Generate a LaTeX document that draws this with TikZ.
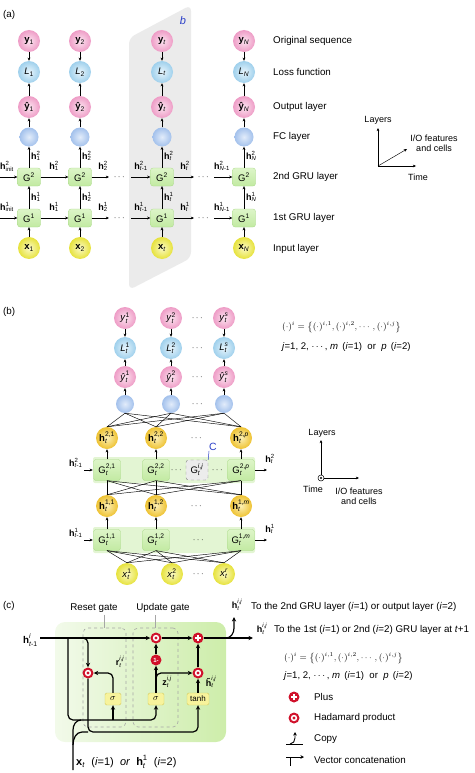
\documentclass[tikz,border=0pt]{standalone}
\usepackage{fontspec}
\setmainfont{Liberation Sans}
\usepackage{amsmath}
\usetikzlibrary{arrows.meta,calc}
\definecolor{pinkO}{HTML}{EE9CC6}
\definecolor{pinkI}{HTML}{FCE4F0}
\definecolor{blueO}{HTML}{9FD0EC}
\definecolor{blueI}{HTML}{E8F5FC}
\definecolor{fcO}{HTML}{A3C1EC}
\definecolor{fcI}{HTML}{E2ECFA}
\definecolor{yelO}{HTML}{E6E23C}
\definecolor{yelI}{HTML}{FBFAC4}
\definecolor{oraO}{HTML}{EEC232}
\definecolor{oraI}{HTML}{FCEFB4}
\definecolor{gT}{HTML}{DDF5C8}
\definecolor{gB}{HTML}{C2EAA2}
\definecolor{gD}{HTML}{A8D888}
\definecolor{bandc}{HTML}{E3F5D3}
\definecolor{panelc}{HTML}{EBEBEB}
\definecolor{hred}{HTML}{D0112B}
\definecolor{sigF}{HTML}{F7F39C}
\definecolor{sigD}{HTML}{D6CC5E}
\definecolor{cBlue}{HTML}{2B3FC8}
\definecolor{boxL}{HTML}{F2FAEA}
\definecolor{boxR}{HTML}{CDEDAA}
\newcommand\hs[3]{$\text{#1}^{\text{#2}}_{\text{#3}}$}
\newcommand\hb[2]{$\text{#1}_{\text{#2}}$}
\tikzset{
 arr/.style={-{Stealth[length=3.2pt,width=2.8pt]}, line width=0.45pt},
 tarr/.style={-{Stealth[length=4.5pt,width=4.2pt]}, line width=1.2pt},
 tl/.style={line width=1.2pt},
 cir/.style={circle, minimum size=22pt, inner sep=0pt, font=\fontsize{9.5}{10}\selectfont},
 pinkc/.style={cir, inner color=pinkI, outer color=pinkO},
 bluec/.style={cir, inner color=blueI, outer color=blueO},
 fcc/.style={cir, minimum size=19pt, inner color=fcI, outer color=fcO},
 yelc/.style={cir, inner color=yelI, outer color=yelO},
 orac/.style={cir, inner color=oraI, outer color=oraO},
 gbox/.style={rectangle, rounded corners=2.5pt, minimum width=23pt, minimum height=18pt, inner sep=0pt, top color=gT, bottom color=gB, draw=gD, line width=0.3pt, font=\fontsize{9.5}{10}\selectfont},
 lab/.style={inner sep=0pt, font=\fontsize{9.8}{11}\selectfont},
 hl/.style={inner sep=0pt, font=\fontsize{9}{10}\selectfont},
 dotn/.style={inner sep=0pt, font=\fontsize{9}{10}\selectfont},
 had/.style={circle, fill=hred, minimum size=11pt, inner sep=0pt, path picture={\fill[white] (path picture bounding box.center) circle (3.2pt); \fill[hred] (path picture bounding box.center) circle (1.6pt);}},
 plusn/.style={circle, fill=hred, minimum size=11pt, inner sep=0pt, path picture={\draw[white, line width=1.3pt] ([xshift=-3pt]path picture bounding box.center) -- ([xshift=3pt]path picture bounding box.center); \draw[white, line width=1.3pt] ([yshift=-3pt]path picture bounding box.center) -- ([yshift=3pt]path picture bounding box.center);}},
 sigbox/.style={rectangle, rounded corners=1.5pt, fill=sigF, draw=sigD, line width=0.4pt, minimum width=16pt, minimum height=12pt, inner sep=1pt, font=\fontsize{9}{10}\selectfont},
 gate/.style={draw=gray!70, dashed, rounded corners=5pt, line width=0.6pt},
}
\begin{document}
\begin{tikzpicture}[x=1pt,y=-1pt]
\useasboundingbox (0,0) rectangle (474,773);
% ================= (a) =================
\fill[panelc, rounded corners=6pt] (129,38) -- (191,5) -- (191,258) -- (129,290) -- cycle;
\node[lab, anchor=west] (la) at (3,15) {(a)};
\node[text=cBlue, font=\fontsize{11}{12}\selectfont\itshape, inner sep=0pt] (bl) at (183,21) {b};
\foreach \c/\x/\s in {1/29/1,2/80/2,3/162/\textit{t},4/244/\textit{N}}{
  \node[pinkc] (ay\c) at (\x,41) {\hb{\textbf{y}}{\s}};
  \node[bluec] (aL\c) at (\x,72) {\hb{\textit{L}}{\s}};
  \node[pinkc] (ayh\c) at (\x,107) {\hb{\textbf{ŷ}}{\s}};
  \node[fcc] (af\c) at (\x,137) {};
  \node[gbox] (aGb\c) at (\x,177) {G$^{\text{2}}$};
  \node[gbox] (aGa\c) at (\x,218) {G$^{\text{1}}$};
  \node[yelc] (ax\c) at (\x,248) {\hb{\textbf{x}}{\s}};
  \draw[arr] (ay\c) -- (aL\c);
  \draw[arr] (ayh\c) -- (aL\c);
  \draw[arr] (af\c) -- (ayh\c);
  \draw[arr] (aGb\c) -- (af\c);
  \draw[arr] (aGa\c) -- (aGb\c);
  \draw[arr] (ax\c) -- (aGa\c);
  \node[hl, anchor=west] (au2\c) at (\x+2,156) {\hs{\textbf{h}}{2}{\s}};
  \node[hl, anchor=west] (au1\c) at (\x+2,197) {\hs{\textbf{h}}{1}{\s}};
}
\foreach \r/\yy/\ly/\n in {b/177/166/2, a/218/207/1}{
  \coordinate (ain\r) at (0,\yy);
  \draw[arr] (ain\r) -- (aG\r1);
  \node[hl, anchor=west] (alin\r) at (0,\ly) {\hs{\textbf{h}}{\n}{init}};
  \draw[arr] (aG\r1) -- (aG\r2);
  \node[hl] (al1\r) at (54,\ly) {\hs{\textbf{h}}{\n}{1}};
  \coordinate (ao2\r) at (109,\yy);
  \draw[arr] (aG\r2) -- (ao2\r);
  \node[hl] (al2\r) at (103,\ly) {\hs{\textbf{h}}{\n}{2}};
  \node[dotn] (ad1\r) at (120,\yy) {$\cdots$};
  \coordinate (ai3\r) at (131,\yy);
  \draw[arr] (ai3\r) -- (aG\r3);
  \node[hl] (al3\r) at (141,\ly) {\hs{\textbf{h}}{\n}{\textit{t}-1}};
  \coordinate (ao3\r) at (194,\yy);
  \draw[arr] (aG\r3) -- (ao3\r);
  \node[hl] (al4\r) at (185,\ly) {\hs{\textbf{h}}{\n}{\textit{t}}};
  \node[dotn] (ad2\r) at (204,\yy) {$\cdots$};
  \coordinate (ai4\r) at (214,\yy);
  \draw[arr] (ai4\r) -- (aG\r4);
  \node[hl] (al5\r) at (222,\ly) {\hs{\textbf{h}}{\n}{\textit{N}-1}};
}
\foreach \t/\yy in {Original sequence/41, Loss function/72, Output layer/107, FC layer/137, 2nd GRU layer/177, 1st GRU layer/218, Input layer/249}{
  \node[lab, anchor=west] at (273,\yy) {\t};
}
\coordinate (ao) at (378,166);
\coordinate (aup) at (378,128);
\coordinate (art) at (416,166);
\coordinate (adg) at (407,149);
\draw[arr] (ao) -- (aup);
\draw[arr] (ao) -- (art);
\draw[arr] (ao) -- (adg);
\node[hl] (alay) at (378,120) {Layers};
\node[hl] (atime) at (418,177) {Time};
\node[hl, align=center] (aio) at (434,143) {I/O features\\and cells};
% ================= (b) =================
\node[lab, anchor=west] (lb) at (3,312) {(b)};
\foreach \c/\x/\s in {1/125/1,2/171/2,3/224/\textit{s}}{
  \node[pinkc] (by\c) at (\x,318) {\hs{\textit{y}}{\s}{\textit{t}}};
  \node[bluec] (bL\c) at (\x,348) {\hs{\textit{L}}{\s}{\textit{t}}};
  \node[pinkc] (byh\c) at (\x,377) {\hs{\textit{ŷ}}{\s}{\textit{t}}};
  \node[fcc, minimum size=18pt] (bf\c) at (\x,404) {};
  \draw[arr] (by\c) -- (bL\c);
  \draw[arr] (byh\c) -- (bL\c);
  \draw[arr] (bf\c) -- (byh\c);
}
\foreach \yy in {318,348,377,404}{\node[dotn] at (198,\yy) {$\cdots$};}
\node[fill=bandc, rounded corners=2pt, minimum width=162pt, minimum height=26pt, inner sep=0pt] (bandb) at (174,470) {};
\node[fill=bandc, rounded corners=2pt, minimum width=162pt, minimum height=26pt, inner sep=0pt] (banda) at (174,540) {};
\foreach \c/\x/\s in {1/107/1,2/156/2,3/241/\textit{p}}{
  \node[gbox, minimum width=27pt, minimum height=21pt] (bGb\c) at (\x,470) {\hs{G}{2,\s}{\textit{t}}};
  \node[orac] (bhb\c) at (\x,438) {\hs{\textbf{h}}{2,\s}{\textit{t}}};
  \draw[arr] (bGb\c) -- (bhb\c);
}
\foreach \c/\x/\s in {1/107/1,2/156/2,3/241/\textit{m}}{
  \node[gbox, minimum width=27pt, minimum height=21pt] (bGa\c) at (\x,540) {\hs{G}{1,\s}{\textit{t}}};
  \node[orac] (bha\c) at (\x,506) {\hs{\textbf{h}}{1,\s}{\textit{t}}};
  \draw[arr] (bGa\c) -- (bha\c);
}
\foreach \c/\x/\s in {1/127/1,2/172/2,3/224/\textit{r}}{
  \node[yelc] (bx\c) at (\x,574) {\hs{\textit{x}}{\s}{\textit{t}}};
}
\foreach \a in {1,2,3}{\foreach \b in {1,2,3}{
  \draw[line width=0.45pt] (bf\a.south) -- (bhb\b.north);
  \draw[line width=0.45pt] (bha\a.north) -- (bGb\b.south);
  \draw[line width=0.45pt] (bx\a.north) -- (bGa\b.south);
}}
\node[draw=gray, dashed, fill=gray!15, rounded corners=2.5pt, minimum width=22pt, minimum height=20pt, inner sep=0pt, font=\fontsize{9.5}{10}\selectfont] (bGij) at (197,470) {\hs{G}{\textit{i},\textit{j}}{\textit{t}}};
\node[dotn] at (177,470) {$\cdots$};
\node[dotn] at (218,470) {$\cdots$};
\node[dotn] at (197,438) {$\cdots$};
\node[dotn] at (197,506) {$\cdots$};
\node[dotn] at (199,540) {$\cdots$};
\node[dotn] at (199,574) {$\cdots$};
\node[text=cBlue, font=\fontsize{10.5}{12}\selectfont, inner sep=0pt] (bC) at (213,447) {C};
\draw[cBlue, line width=0.5pt] (bC.south west) -- (bGij.north east);
\node[hl, anchor=west] (bl2in) at (69,463) {\hs{\textbf{h}}{2}{\textit{t}-1}};
\coordinate (b2in) at (84,470);
\draw[arr] (b2in) -- (bandb.west);
\coordinate (b2out) at (267,470);
\draw[arr] (bandb.east) -- (b2out);
\node[hl] (bl2out) at (270,459) {\hs{\textbf{h}}{2}{\textit{t}}};
\node[hl, anchor=west] (bl1in) at (69,533) {\hs{\textbf{h}}{1}{\textit{t}-1}};
\coordinate (b1in) at (84,540);
\draw[arr] (b1in) -- (banda.west);
\coordinate (b1out) at (267,540);
\draw[arr] (banda.east) -- (b1out);
\node[hl] (bl1out) at (270,529) {\hs{\textbf{h}}{1}{\textit{t}}};
\node[anchor=west, inner sep=0pt, font=\fontsize{9}{10}\selectfont] (bfm1) at (282,327) {$(\cdot)^{i}=\bigl\{(\cdot)^{i,1},(\cdot)^{i,2},\cdots,(\cdot)^{i,j}\bigr\}$};
\node[anchor=west, inner sep=0pt, font=\fontsize{9.6}{11}\selectfont] (bfm2) at (282,347) {\textit{j}=1, 2, $\cdots$, \textit{m}\, (\textit{i}=1)\ \ or\ \ \textit{p}\, (\textit{i}=2)};
\node[circle, draw, line width=0.5pt, minimum size=6pt, inner sep=0pt] (bo) at (321,478) {};
\fill (bo.center) circle (1.1pt);
\coordinate (bup) at (321,440);
\coordinate (brt) at (359,478);
\draw[arr] (bo) -- (bup);
\draw[arr] (bo) -- (brt);
\node[hl] (blay) at (322,433) {Layers};
\node[hl] (btime) at (313,489) {Time};
\node[hl, align=center] (bio) at (359,496) {I/O features\\and cells};
% ================= (c) =================
\node[lab, anchor=west] (lc) at (3,606) {(c)};
\node[rounded corners=10pt, minimum width=171pt, minimum height=120pt, inner sep=0pt, left color=boxL, right color=boxR] (cbox) at (140.5,682) {};
\node[gate, minimum width=43pt, minimum height=99pt] (rg) at (104.5,677.5) {};
\node[gate, minimum width=45pt, minimum height=99pt] (ug) at (155.5,677.5) {};
\node[lab] (rgl) at (94,608) {Reset gate};
\node[lab] (ugl) at (163,608) {Update gate};
\draw[gray!70, line width=0.6pt] (rg.north |- rgl.south) ++(0,2) -- (rg.north);
\draw[gray!70, line width=0.6pt] (ug.north |- ugl.south) ++(0,2) -- (ug.north);
\node[had] (cha) at (156,638) {};
\node[plusn] (cpl) at (198,638) {};
\node[circle, fill=hred, minimum size=11pt, inner sep=0pt, text=white, font=\fontsize{6}{6}\selectfont\bfseries] (cone) at (156,660) {1-};
\node[had] (chr) at (88,673) {};
\node[had] (chc) at (198,673) {};
\node[sigbox] (csr) at (113,699) {$\sigma$};
\node[sigbox] (csu) at (156,699) {$\sigma$};
\node[sigbox, minimum width=22pt, font=\fontsize{8}{9}\selectfont] (ctanh) at (198,699) {tanh};
\node[lab, anchor=east] (chin) at (38,640) {\hs{\textbf{h}}{\textit{i}}{\textit{t}-1}};
\coordinate (cs) at (40,638);
\coordinate (cend) at (253,638);
\draw[tarr] (cs) -- (cha);
\draw[tarr] (cha) -- (cpl);
\draw[tarr] (cpl) -- (cend);
\draw[tarr, rounded corners=5pt] (68,638) -- (68,720) -| (csu.south);
\draw[tarr] (113,720) -- (csr.south);
\coordinate (cx) at (73,770);
\draw[tl] (cx) -- (73,730) to[out=90,in=180] (81,720);
\draw[tl] (73,745) to[out=90,in=180] (82,732) -- (88,732);
\draw[tarr, rounded corners=5pt] (chr.south) -- (88,732) -| (ctanh.south);
\draw[tarr, rounded corners=5pt] (78,638) -| (chr.north);
\draw[tarr, rounded corners=5pt] (csr.north) |- (chr.east);
\draw[tarr] (csu.north) -- (cone.south);
\draw[tarr, rounded corners=5pt] (156,686) |- (chc.west);
\draw[tarr] (cone.north) -- (cha.south);
\draw[tarr] (ctanh.north) -- (chc.south);
\draw[tarr] (chc.north) -- (cpl.south);
\coordinate (cup) at (234,617);
\draw[tarr] (226,638) to[out=0,in=-90] (234,628) -- (cup);
\node[hl] (crl) at (120,662) {\hs{\textbf{r}}{\textit{i},\textit{j}}{\textit{t}}};
\node[hl] (czl) at (167,682) {\hs{\textbf{z}}{\textit{i},\textit{j}}{\textit{t}}};
\node[hl] (chl) at (211,682) {\hs{\textbf{\~{h}}}{\textit{i},\textit{j}}{\textit{t}}};
\node[hl] (cho1) at (237,605) {\hs{\textbf{h}}{\textit{i},\textit{j}}{\textit{t}}};
\node[lab, anchor=west] (ct1) at (251,607) {To the 2nd GRU layer (\textit{i}=1) or output layer (\textit{i}=2)};
\node[hl] (cho2) at (262,629) {\hs{\textbf{h}}{\textit{i},\textit{j}}{\textit{t}}};
\node[lab, anchor=west] (ct2) at (274,630) {To the 1st (\textit{i}=1) or 2nd (\textit{i}=2) GRU layer at \textit{t}+1};
\node[anchor=west, inner sep=0pt, font=\fontsize{9}{10}\selectfont] (cfm1) at (284,658) {$(\cdot)^{i}=\bigl\{(\cdot)^{i,1},(\cdot)^{i,2},\cdots,(\cdot)^{i,j}\bigr\}$};
\node[anchor=west, inner sep=0pt, font=\fontsize{9.6}{11}\selectfont] (cfm2) at (284,676) {\textit{j}=1, 2, $\cdots$, \textit{m}\, (\textit{i}=1)\ \ or\ \ \textit{p}\, (\textit{i}=2)};
\node[plusn] (lgp) at (294,697) {};
\node[lab, anchor=west] (lgpt) at (314,697) {Plus};
\node[had] (lgh) at (294,718) {};
\node[lab, anchor=west] (lght) at (314,718) {Hadamard product};
\draw[line width=0.9pt] (286,744) -- (303,744);
\draw[-{Stealth[length=3.5pt,width=3.5pt]}, line width=0.9pt] (290,744) to[out=0,in=-90] (295,738) -- (295,732);
\node[lab, anchor=west] (lgct) at (314,739) {Copy};
\draw[line width=0.9pt] (290,766) -- (290,757);
\draw[-{Stealth[length=3.5pt,width=3.5pt]}, line width=0.9pt] (286,757) -- (304,757);
\node[lab, anchor=west] (lgvt) at (314,760) {Vector concatenation};
\node[anchor=west, font=\fontsize{11}{13}\selectfont, inner sep=0pt] (cxl) at (76,762) {\hb{\textbf{x}}{\textit{t}}\ \ (\textit{i}=1)\ \ \textit{or}\ \ \hs{\textbf{h}}{1}{\textit{t}}\ \ (\textit{i}=2)};
\end{tikzpicture}
\end{document}
